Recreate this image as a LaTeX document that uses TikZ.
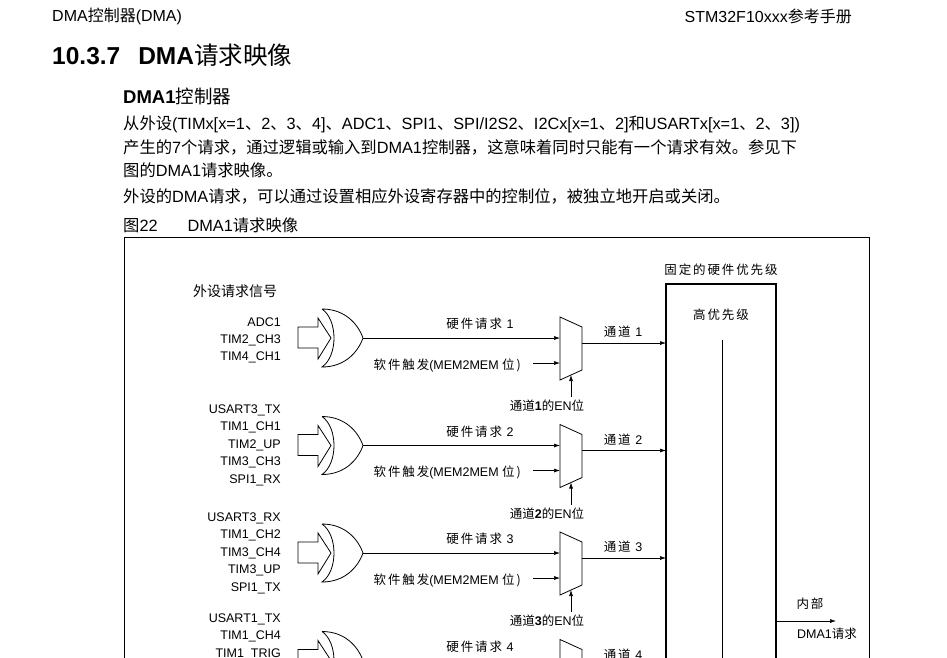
\documentclass[tikz,border=0pt]{standalone}
\usepackage{fontspec}
\setmainfont{Liberation Sans}
\newfontfamily\cjk{Noto Sans CJK SC}
\newfontfamily\cjks[LetterSpace=15]{Noto Sans CJK SC}
\usetikzlibrary{arrows.meta}
\begin{document}
\begin{tikzpicture}[x=1pt,y=-1pt,
  lbl/.style={inner sep=0pt,font=\fontsize{12.5}{14}\selectfont\cjks},
  sig/.style={inner sep=0pt,anchor=east,font=\fontsize{12.5}{14}\selectfont},
  arr/.style={-{Latex[length=6pt,width=4pt]},line width=0.6pt},
  gate/.style={line width=0.8pt}]
\useasboundingbox (0,0) rectangle (947,657);
\clip (0,0) rectangle (947,657);
% header text
\node[anchor=west,inner sep=0pt,font=\fontsize{16}{18}\selectfont] (h1) at (52,16) {DMA{\cjk 控制器}(DMA)};
\node[anchor=east,inner sep=0pt,font=\fontsize{16}{18}\selectfont] (h2) at (852,16) {STM32F10xxx{\cjk 参考手册}};
\node[anchor=west,inner sep=0pt,font=\fontsize{24.5}{28}\selectfont\bfseries] (h3) at (52,55) {10.3.7\hspace{18pt}DMA{\cjk\mdseries 请求映像}};
\node[anchor=west,inner sep=0pt,font=\fontsize{18.5}{20}\selectfont\bfseries] (h4) at (123,96) {DMA1{\cjk\mdseries 控制器}};
\begin{scope}[every node/.style={anchor=west,inner sep=0pt,font=\fontsize{16.3}{18}\selectfont}]
\node (p1) at (123,124) {{\cjk 从外设}(TIMx[x=1{\cjk 、}2{\cjk 、}3{\cjk 、}4]{\cjk 、}ADC1{\cjk 、}SPI1{\cjk 、}SPI/I2S2{\cjk 、}I2Cx[x=1{\cjk 、}2]{\cjk 和}USARTx[x=1{\cjk 、}2{\cjk 、}3])};
\node (p2) at (123,147) {{\cjk 产生的}7{\cjk 个请求，通过逻辑或输入到}DMA1{\cjk 控制器，这意味着同时只能有一个请求有效。参见下}};
\node (p3) at (123,170) {{\cjk 图的}DMA1{\cjk 请求映像。}};
\node (p4) at (123,196) {{\cjk 外设的}DMA{\cjk 请求，可以通过设置相应外设寄存器中的控制位，被独立地开启或关闭。}};
\node (p5) at (123,225) {{\cjk 图}22\hspace{30pt}DMA1{\cjk 请求映像}};
\end{scope}
% frame
\draw[line width=0.6pt] (124,700) -- (124,237) -- (869,237) -- (869,700);
\node[lbl,font=\fontsize{14}{16}\selectfont\cjk] (t0) at (235,291) {外设请求信号};
\node[lbl] (tf) at (721,270) {固定的硬件优先级};
\draw[line width=1.6pt] (666,700) -- (666,284) -- (776,284) -- (776,700);
\node[lbl] (hp) at (721,315) {高优先级};
\coordinate (pa) at (722,340);
\coordinate (pb) at (722,700);
\draw[line width=0.6pt] (pa) -- (pb);
\coordinate (ia) at (776,621);
\coordinate (ib) at (836,621);
\draw[arr] (ia) -- (ib);
\node[lbl] (in1) at (810,604) {内部};
\node[lbl,font=\fontsize{12.5}{14}\selectfont\cjk] (in2) at (827,634) {\fontspec{Liberation Sans}DMA1{\cjk 请求}};
% rows
\foreach \i/\o in {1/0,2/107.5,3/215,4/322.5}{
\begin{scope}[yshift=-\o]
  \draw[gate] (298,327) -- (318,327) -- (318,318) -- (331,338) -- (318,359) -- (318,348) -- (298,348) -- cycle;
  \draw[gate] (322,309) .. controls (338,320) and (338,356) .. (322,367)
    .. controls (345,367) and (358,352) .. (363,338)
    .. controls (358,324) and (345,309) .. (322,309);
  \coordinate (g\i) at (363,338);
  \draw[gate] (560,317) -- (582,327) -- (582,370) -- (560,380) -- cycle;
  \coordinate (mh\i) at (560,338);
  \coordinate (mo\i) at (582,343);
  \coordinate (co\i) at (666,343);
  \draw[arr] (g\i) -- (mh\i);
  \draw[arr] (mo\i) -- (co\i);
  \node[lbl] (hr\i) at (480,324) {硬件请求 \fontspec{Liberation Sans}\i};
  \node[lbl] (ch\i) at (623,332) {通道 \fontspec{Liberation Sans}\i};
\end{scope}}
\foreach \i/\o in {1/0,2/107.5,3/215}{
\begin{scope}[yshift=-\o]
  \coordinate (ms\i) at (560,363);
  \coordinate (ss\i) at (533,363);
  \coordinate (me\i) at (571,375);
  \coordinate (es\i) at (571,397);
  \draw[arr] (ss\i) -- (ms\i);
  \draw[arr] (es\i) -- (me\i);
  \node[lbl,anchor=east] (sw\i) at (521,365) {软件触发{\fontspec{Liberation Sans}(MEM2MEM }位)};
  \node[lbl,font=\fontsize{12.5}{14}\selectfont\cjk] (en\i) at (547,406) {通道{\fontspec{Liberation Sans}\bfseries\i}的{\fontspec{Liberation Sans}EN}位};
\end{scope}}
% signal labels
\node[sig] (s11) at (281,322) {ADC1};
\node[sig] (s12) at (281,340) {TIM2\_CH3};
\node[sig] (s13) at (281,357) {TIM4\_CH1};
\node[sig] (s21) at (281,410) {USART3\_TX};
\node[sig] (s22) at (281,427) {TIM1\_CH1};
\node[sig] (s23) at (281,445) {TIM2\_UP};
\node[sig] (s24) at (281,462) {TIM3\_CH3};
\node[sig] (s25) at (281,480) {SPI1\_RX};
\node[sig] (s31) at (281,518) {USART3\_RX};
\node[sig] (s32) at (281,535) {TIM1\_CH2};
\node[sig] (s33) at (281,553) {TIM3\_CH4};
\node[sig] (s34) at (281,570) {TIM3\_UP};
\node[sig] (s35) at (281,588) {SPI1\_TX};
\node[sig] (s41) at (281,619) {USART1\_TX};
\node[sig] (s42) at (281,636) {TIM1\_CH4};
\node[sig] (s43) at (281,654) {TIM1\_TRIG};
\end{tikzpicture}
\end{document}
